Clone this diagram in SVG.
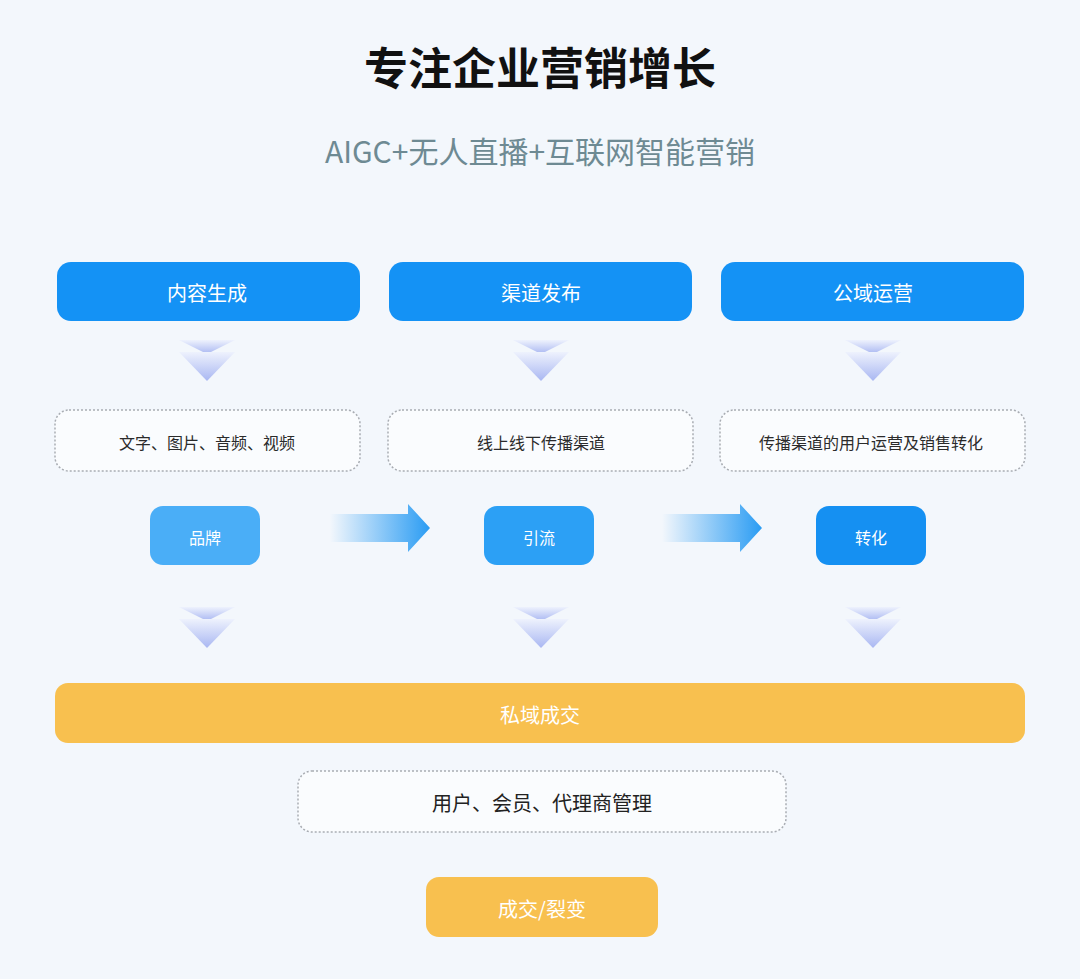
<svg xmlns="http://www.w3.org/2000/svg" width="1080" height="979" viewBox="0 0 1080 979">
<style>
text{font-family:"Noto Sans CJK SC","Noto Sans",sans-serif;text-anchor:middle;dominant-baseline:central}
.top{fill:#1492f5}
.tw{fill:#fff;font-size:20px}
.dash{fill:#fafcfe;stroke:#a9adb3;stroke-width:1.5;stroke-dasharray:2 2}
.dt{fill:#2b2b2b;font-size:16px}
.or{fill:#f8c04f}
</style>
<defs>
<linearGradient id="cg" x1="0" y1="0" x2="0" y2="1"><stop offset="0" stop-color="#eef2fd"/><stop offset="1" stop-color="#a9b7f2"/></linearGradient>
<linearGradient id="ag" x1="0" y1="0" x2="1" y2="0"><stop offset="0" stop-color="#2a9cf3" stop-opacity="0"/><stop offset="1" stop-color="#2a9cf3"/></linearGradient>
<g id="chev"><path d="M-28 0H28L0 14Z" fill="url(#cg)"/><path d="M-28 12H28L0 41Z" fill="url(#cg)"/></g>
<path id="harr" d="M0 -14H78V-24L100 0L78 24V14H0Z" fill="url(#ag)"/>
</defs>
<rect width="1080" height="979" fill="#f3f7fc"/>
<text x="540" y="66" font-size="44" font-weight="bold" fill="#111">专注企业营销增长</text>
<text x="540" y="150" font-size="30" fill="#6e8a93">AIGC+无人直播+互联网智能营销</text>
<g id="connectors">
<use href="#chev" x="207" y="340"/><use href="#chev" x="541" y="340"/><use href="#chev" x="873" y="340"/>
<use href="#chev" x="207" y="607"/><use href="#chev" x="541" y="607"/><use href="#chev" x="873" y="607"/>
<use href="#harr" x="330" y="528"/><use href="#harr" x="662" y="528"/>
</g>
<g id="n1"><rect class="top" x="57" y="262" width="303" height="59" rx="14"/><text class="tw" x="207" y="292">内容生成</text></g>
<g id="n2"><rect class="top" x="389" y="262" width="303" height="59" rx="14"/><text class="tw" x="541" y="292">渠道发布</text></g>
<g id="n3"><rect class="top" x="721" y="262" width="303" height="59" rx="14"/><text class="tw" x="873" y="292">公域运营</text></g>
<g id="d1"><rect class="dash" x="55" y="410" width="305" height="61" rx="14"/><text class="dt" x="207" y="442">文字、图片、音频、视频</text></g>
<g id="d2"><rect class="dash" x="388" y="410" width="305" height="61" rx="14"/><text class="dt" x="541" y="442">线上线下传播渠道</text></g>
<g id="d3"><rect class="dash" x="720" y="410" width="305" height="61" rx="14"/><text class="dt" x="871" y="442">传播渠道的用户运营及销售转化</text></g>
<g id="b1"><rect x="150" y="506" width="110" height="59" rx="13" fill="#4aaef7"/><text x="205" y="537" fill="#fff" font-size="16">品牌</text></g>
<g id="b2"><rect x="484" y="506" width="110" height="59" rx="13" fill="#2ca0f5"/><text x="539" y="537" fill="#fff" font-size="16">引流</text></g>
<g id="b3"><rect x="816" y="506" width="110" height="59" rx="13" fill="#1590f2"/><text x="871" y="537" fill="#fff" font-size="16">转化</text></g>
<g id="priv"><rect class="or" x="55" y="683" width="970" height="60" rx="13"/><text class="tw" x="540" y="714">私域成交</text></g>
<g id="mgmt"><rect class="dash" x="298" y="771" width="488" height="61" rx="14"/><text x="542" y="802" fill="#222" font-size="20">用户、会员、代理商管理</text></g>
<g id="fin"><rect class="or" x="426" y="877" width="232" height="60" rx="13"/><text class="tw" x="542" y="908">成交/裂变</text></g>
</svg>
